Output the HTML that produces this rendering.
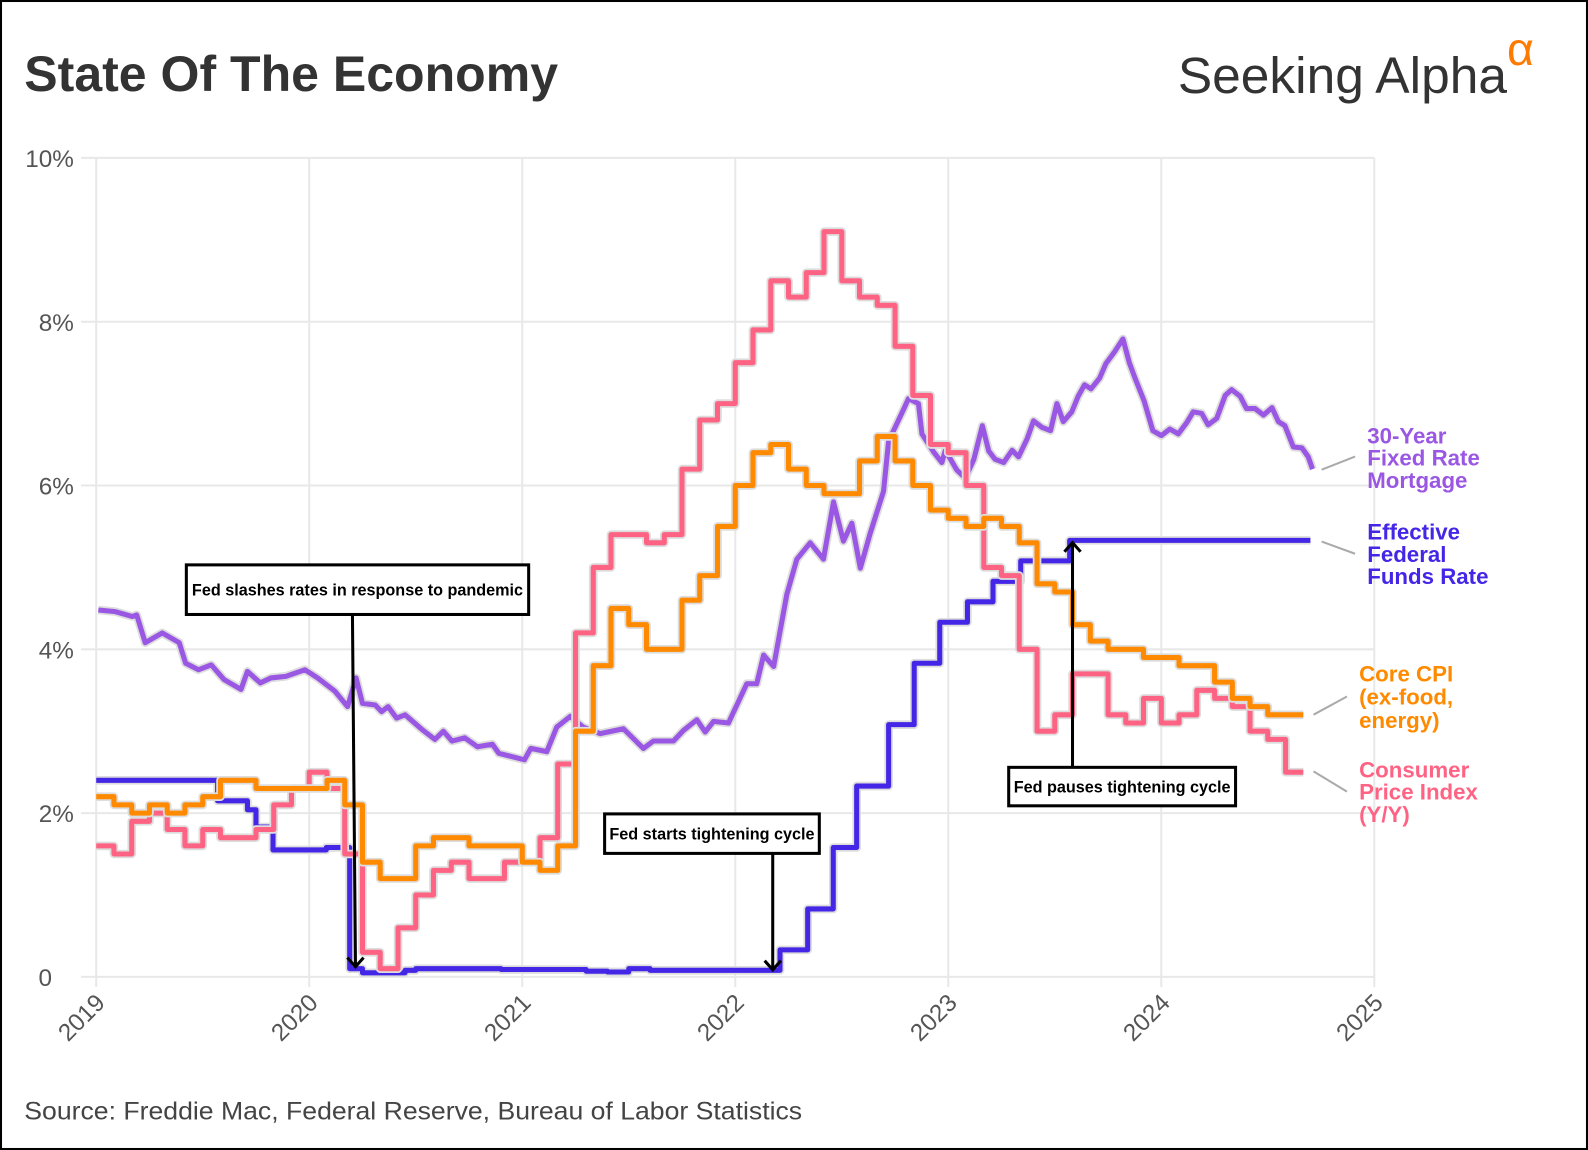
<!DOCTYPE html>
<html><head><meta charset="utf-8">
<style>
html,body{margin:0;padding:0;background:#fff;}
svg{display:block;}
text{font-family:"Liberation Sans",sans-serif;}
</style></head>
<body>
<svg id="chart" width="1588" height="1150" viewBox="0 0 1568 1136" preserveAspectRatio="none" xmlns="http://www.w3.org/2000/svg">
<rect x="1" y="1" width="1566" height="1134" fill="#fff" stroke="#000" stroke-width="2"/>
<text x="24" y="90" font-size="49" font-weight="bold" fill="#333" textLength="527" lengthAdjust="spacingAndGlyphs">State Of The Economy</text>
<g>
<text x="1163" y="92" font-size="50" fill="#333" textLength="325" lengthAdjust="spacingAndGlyphs">Seeking Alpha</text>
<text x="1488" y="64" font-size="46" fill="#ff7a00" font-family="Liberation Serif, serif">α</text>
</g>
<g id="grid"></g>
<g id="series"></g>
<g id="annotations"></g>
<g font-weight="bold" font-size="22">
<text fill="#9a57e3"><tspan x="1350" y="438">30-Year</tspan><tspan x="1350" y="460">Fixed Rate</tspan><tspan x="1350" y="482">Mortgage</tspan></text>
<line x1="1305" y1="464" x2="1338" y2="451" stroke="#aaa" stroke-width="2"/>
<text fill="#4426e6"><tspan x="1350" y="533">Effective</tspan><tspan x="1350" y="555">Federal</tspan><tspan x="1350" y="577">Funds Rate</tspan></text>
<line x1="1305" y1="535" x2="1338" y2="547" stroke="#aaa" stroke-width="2"/>
<text fill="#ff8a00"><tspan x="1342" y="673">Core CPI</tspan><tspan x="1342" y="696">(ex-food,</tspan><tspan x="1342" y="719">energy)</tspan></text>
<line x1="1297" y1="706" x2="1330" y2="688" stroke="#aaa" stroke-width="2"/>
<text fill="#ff6384"><tspan x="1342" y="768">Consumer</tspan><tspan x="1342" y="790">Price Index</tspan><tspan x="1342" y="812">(Y/Y)</tspan></text>
<line x1="1297" y1="762" x2="1330" y2="782" stroke="#aaa" stroke-width="2"/>
</g>
<text x="24" y="1106" font-size="25" fill="#444" textLength="768" lengthAdjust="spacingAndGlyphs">Source: Freddie Mac, Federal Reserve, Bureau of Labor Statistics</text>
</svg>
<script>
const yearTicks = [2019,2020,2021,2022,2023,2024,2025];
const yTicks = [0,2,4,6,8,10];
const yTickLabels = ["0","2%","4%","6%","8%","10%"];
const cpiStart = 2019;
const cpiValues = [1.6,1.5,1.9,2.0,1.8,1.6,1.8,1.7,1.7,1.8,2.1,2.3,
 2.5,2.3,1.5,0.3,0.1,0.6,1.0,1.3,1.4,1.2,1.2,1.4,
 1.4,1.7,2.6,4.2,5.0,5.4,5.4,5.3,5.4,6.2,6.8,7.0,
 7.5,7.9,8.5,8.3,8.6,9.1,8.5,8.3,8.2,7.7,7.1,6.5,
 6.4,6.0,5.0,4.9,4.0,3.0,3.2,3.7,3.7,3.2,3.1,3.4,
 3.1,3.2,3.5,3.4,3.3,3.0,2.9,2.5];
const coreValues = [2.2,2.1,2.0,2.1,2.0,2.1,2.2,2.4,2.4,2.3,2.3,2.3,
 2.3,2.4,2.1,1.4,1.2,1.2,1.6,1.7,1.7,1.6,1.6,1.6,
 1.4,1.3,1.6,3.0,3.8,4.5,4.3,4.0,4.0,4.6,4.9,5.5,
 6.0,6.4,6.5,6.2,6.0,5.9,5.9,6.3,6.6,6.3,6.0,5.7,
 5.6,5.5,5.6,5.5,5.3,4.8,4.7,4.3,4.1,4.0,4.0,3.9,
 3.9,3.8,3.8,3.6,3.4,3.3,3.2,3.2];
const fedDates = [2019.0,2019.2,2019.4,2019.57,2019.71,2019.75,2019.83,2020.08,2020.19,2020.25,2020.45,2020.5,2020.9,2021.3,2021.4,2021.5,2021.6,2022.21,2022.34,2022.46,2022.57,2022.72,2022.84,2022.96,2023.09,2023.21,2023.34,2023.57,2024.70];
const fedValues = [2.40,2.40,2.40,2.15,2.04,1.83,1.55,1.58,0.10,0.05,0.08,0.10,0.09,0.07,0.06,0.10,0.08,0.33,0.83,1.58,2.33,3.08,3.83,4.33,4.58,4.83,5.08,5.33,5.33];
const mortDates = [2019.01,2019.09,2019.17,2019.19,2019.23,2019.31,2019.39,2019.42,2019.48,2019.54,2019.60,2019.68,2019.71,2019.77,2019.82,2019.89,2019.98,2020.04,2020.12,2020.18,2020.22,2020.25,2020.31,2020.34,2020.37,2020.41,2020.45,2020.53,2020.59,2020.63,2020.67,2020.73,2020.79,2020.86,2020.89,2020.95,2021.01,2021.04,2021.115,2021.162,2021.225,2021.287,2021.366,2021.475,2021.569,2021.616,2021.71,2021.757,2021.82,2021.859,2021.898,2021.968,2022.054,2022.101,2022.133,2022.18,2022.242,2022.289,2022.352,2022.414,2022.461,2022.508,2022.547,2022.587,2022.633,2022.696,2022.72,2022.743,2022.79,2022.813,2022.86,2022.876,2022.931,2022.97,2022.986,2023.04,2023.08,2023.12,2023.16,2023.19,2023.22,2023.26,2023.30,2023.33,2023.37,2023.40,2023.44,2023.48,2023.51,2023.54,2023.58,2023.61,2023.64,2023.67,2023.71,2023.74,2023.78,2023.82,2023.85,2023.88,2023.92,2023.96,2024.0,2024.04,2024.08,2024.12,2024.15,2024.19,2024.22,2024.26,2024.30,2024.33,2024.37,2024.40,2024.44,2024.48,2024.52,2024.55,2024.58,2024.62,2024.66,2024.69,2024.71];
const mortValues = [4.48,4.46,4.40,4.42,4.08,4.20,4.08,3.83,3.75,3.81,3.63,3.51,3.73,3.59,3.65,3.67,3.75,3.65,3.49,3.30,3.65,3.34,3.32,3.24,3.30,3.16,3.20,3.02,2.90,3.00,2.88,2.92,2.81,2.84,2.73,2.69,2.65,2.79,2.75,3.05,3.18,3.05,2.97,3.03,2.79,2.88,2.88,3.01,3.14,2.99,3.12,3.10,3.58,3.58,3.93,3.79,4.67,5.10,5.30,5.10,5.80,5.32,5.54,4.99,5.41,5.93,6.54,6.67,6.93,7.06,7.00,6.63,6.41,6.28,6.43,6.19,6.09,6.32,6.73,6.42,6.32,6.28,6.43,6.35,6.57,6.79,6.71,6.67,7.0,6.78,6.90,7.09,7.23,7.18,7.31,7.49,7.63,7.79,7.50,7.29,7.03,6.67,6.61,6.69,6.63,6.77,6.90,6.88,6.74,6.82,7.10,7.17,7.09,6.94,6.94,6.86,6.95,6.78,6.73,6.47,6.46,6.35,6.20];

const NS = "http://www.w3.org/2000/svg";
const X0 = 95, X1 = 1357, Y0 = 965, Y1 = 156;
function xScale(t){ return X0 + (t - 2019) / 6 * (X1 - X0); }
function yScale(v){ return Y0 - v / 10 * (Y0 - Y1); }
function mk(tag, attrs, parent){ const e = document.createElementNS(NS, tag); for (const k in attrs) e.setAttribute(k, attrs[k]); parent.appendChild(e); return e; }

const grid = document.getElementById('grid');
yTicks.forEach((v, i) => {
  const l = mk('line', {x1: 80, x2: X1, y1: yScale(v), y2: yScale(v), stroke: '#e8e8e8', 'stroke-width': 2}, grid);
  
  
  const tx = mk('text', {x: v === 0 ? 38 : 73, y: yScale(v) + 9, 'font-size': 24, fill: '#555', 'text-anchor': v === 0 ? 'start' : 'end'}, grid);
  tx.textContent = yTickLabels[i];
  
  
});
yearTicks.forEach(y => {
  const x = xScale(y);
  const l = mk('line', {x1: x, x2: x, y1: Y1, y2: Y0 + 10, stroke: '#e8e8e8', 'stroke-width': 2}, grid);
  
  
  const tx = mk('text', {x: x + 10, y: 992, 'font-size': 24, fill: '#555', 'text-anchor': 'end', transform: `rotate(-45 ${x + 10} 992)`}, grid);
  tx.textContent = String(y);
  
  
});

function monthlyStepPath(start, vals){
  let d = '';
  vals.forEach((v, i) => {
    const xa = xScale(start + i / 12), xb = xScale(start + (i + 1) / 12), y = yScale(v);
    d += (i === 0 ? 'M' : 'L') + xa.toFixed(1) + ',' + y.toFixed(1) + 'L' + xb.toFixed(1) + ',' + y.toFixed(1);
  });
  return d;
}
function stepPath(dates, vals){
  let d = '';
  for (let i = 0; i < dates.length; i++) {
    const x = xScale(dates[i]), y = yScale(vals[i]);
    if (i === 0) d += 'M' + x + ',' + y;
    else d += 'L' + x + ',' + yScale(vals[i - 1]) + 'L' + x + ',' + y;
  }
  return d;
}
function linePath(dates, vals){
  return dates.map((t, i) => (i ? 'L' : 'M') + xScale(t).toFixed(1) + ',' + yScale(vals[i]).toFixed(1)).join('');
}
const series = document.getElementById('series');
function drawSeries(d, color, name){
  const g = mk('g', {}, series);
  
  
  mk('path', {d: d, fill: 'none', stroke: '#ddd', 'stroke-width': 8.5, 'stroke-linejoin': 'round'}, g);
  mk('path', {d: d, fill: 'none', stroke: color, 'stroke-width': 5, 'stroke-linejoin': 'round'}, g);
}
drawSeries(linePath(mortDates, mortValues), '#9a57e3', 'mortgage-line');
drawSeries(stepPath(fedDates, fedValues), '#4426e6', 'fed-funds-line');
drawSeries(monthlyStepPath(cpiStart, cpiValues), '#ff6384', 'cpi-line');
drawSeries(monthlyStepPath(cpiStart, coreValues), '#ff8a00', 'core-cpi-line');

const ann = document.getElementById('annotations');
function box(x, y, w, h, label, name){
  const g = mk('g', {}, ann);
  
  
  mk('rect', {x: x, y: y, width: w, height: h, fill: '#fff', stroke: '#000', 'stroke-width': 3}, g);
  const t = mk('text', {x: x + w / 2, y: y + h / 2 + 6, 'font-size': 16, 'font-weight': 'bold', fill: '#000', 'text-anchor': 'middle'}, g);
  t.textContent = label;
}
function arrow(x1, y1, x2, y2, up, name){
  const g = mk('g', {}, ann);
  
  
  mk('line', {x1: x1, y1: y1, x2: x2, y2: y2, stroke: '#000', 'stroke-width': 3}, g);
  const s = up ? 1 : -1;
  mk('path', {d: `M${x2 - 8},${y2 + s * 9}L${x2},${y2}L${x2 + 8},${y2 + s * 9}`, fill: 'none', stroke: '#000', 'stroke-width': 3}, g);
}
arrow(348, 607, 351, 955, false, 'pandemic-arrow');
box(184, 558, 338, 49, 'Fed slashes rates in response to pandemic', 'pandemic-annotation');
arrow(763, 843, 763, 958, false, 'tightening-arrow');
box(597, 804, 212, 39, 'Fed starts tightening cycle', 'tightening-annotation');
arrow(1059, 758, 1059, 536, true, 'pause-arrow');
box(996, 758, 224, 38, 'Fed pauses tightening cycle', 'pause-annotation');
</script>
</body></html>
